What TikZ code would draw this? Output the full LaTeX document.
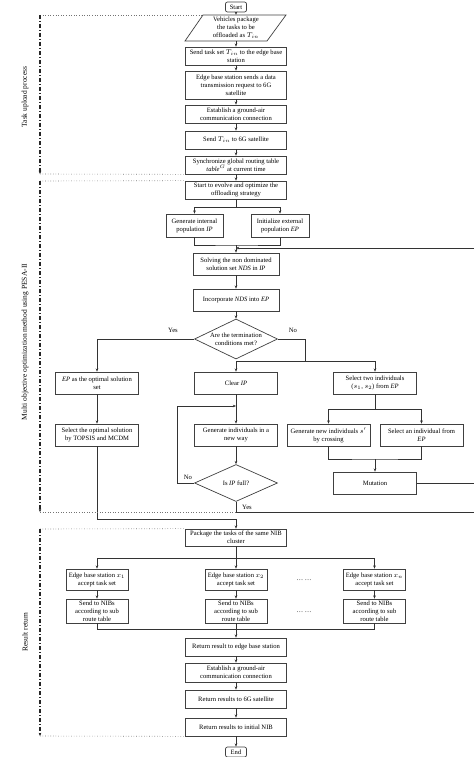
\documentclass[tikz,border=0pt]{standalone}
\usepackage{fontspec}
\setmainfont{Liberation Serif}
\usetikzlibrary{arrows.meta,shapes.geometric}

\tikzset{
	>={Stealth[length=3.2pt,width=2.6pt]},
	every node/.style={font=\fontsize{6.6}{8}\selectfont},
	boxline/.style={draw=black!75, line width=0.7pt},
	box/.style={boxline, shape=rectangle, align=center, inner sep=1pt},
	mainbox/.style={box, minimum width=101pt, minimum height=18pt},
	midbox/.style={box, minimum width=83pt, minimum height=22pt},
	edgebox/.style={box, minimum width=62pt},
	decide/.style={boxline, diamond, aspect=2.1, inner sep=0pt, align=center, minimum width=83pt},
	terminal/.style={boxline, rounded corners=2pt, minimum width=21pt, minimum height=10pt, inner sep=0pt},
	flow/.style={line width=0.5pt, black!80},
	phase/.style={line width=1.1pt, black!85, dash pattern=on 4pt off 2pt on 1pt off 2pt},
	bound/.style={dotted, black!55, line width=0.6pt},
	phaselabel/.style={rotate=90, font=\fontsize{7.5}{9}\selectfont}
}

\begin{document}
\begin{tikzpicture}[x=1pt, y=-1pt]
	\useasboundingbox (0,0) rectangle (474,757);

	%task upload process
	\node[terminal] (start) at (236,7) {Start};
	\draw[boxline] (203,15) -- (286,15) -- (267,41) -- (185,41) -- cycle;
	\coordinate (vehtl) at (203,15);
	\node[align=center, minimum height=26pt, inner sep=0pt] (veh) at (236,28) {Vehicles package\\the tasks to be\\offloaded as $T_{in}$};
	\node[mainbox] (task) at (236,56) {Send task set $T_{in}$ to the edge base\\station};
	\node[mainbox, minimum height=28pt] (req) at (236,85) {Edge base station sends a data\\transmission request to 6G\\satellite};
	\node[mainbox] (conn) at (236,114) {Establish a ground-air\\communication connection};
	\node[mainbox] (sat) at (236,140) {Send $T_{in}$ to 6G satellite};
	\node[mainbox] (sync) at (236,165) {Synchronize global routing table\\\textit{table}$^G$ at current time};
	\draw[flow,->] (start) -- (veh);
	\draw[flow,->] (veh) -- (task);
	\draw[flow,->] (task) -- (req);
	\draw[flow,->] (req) -- (conn);
	\draw[flow,->] (conn) -- (sat);
	\draw[flow,->] (sat) -- (sync);

	%optimization with PESA-II
	\node[mainbox] (evolve) at (236,190) {Start to evolve and optimize the\\offloading strategy};
	\draw[flow,->] (sync) -- (evolve);
	\node[box, minimum width=57pt, minimum height=23pt] (ip) at (194.5,225.5) {Generate internal\\population \textit{IP}};
	\node[box, minimum width=58pt, minimum height=23pt] (ep) at (280,225.5) {Initialize external\\population \textit{EP}};
	\coordinate (split1) at (236,207);
	\draw[flow] (evolve) -- (split1);
	\draw[flow,->] (split1) -| (ip);
	\draw[flow,->] (split1) -| (ep);

	\node[midbox, minimum width=86pt] (nds) at (236,264) {Solving the non dominated\\solution set \textit{NDS} in \textit{IP}};
	\node[midbox, minimum width=86pt] (inc) at (236,300) {Incorporate \textit{NDS} into \textit{EP}};
	\node[decide, minimum height=40pt] (term) at (236,339) {Are the termination\\conditions met?};
	\coordinate (m1) at (236,245);
	\coordinate (m2) at (236,248);
	\coordinate (back) at (474,248);
	\draw[flow] (ip.south) |- (m1) -| (ep.south);
	\draw[flow,->] (m1) -- (nds);
	\draw[flow,->] (back) -- (m2);
	\draw[flow,->] (nds) -- (inc);
	\draw[flow,->] (inc) -- (term);

	%yes branch
	\node[midbox] (opt) at (97,383) {\textit{EP} as the optimal solution\\set};
	\node[midbox] (topsis) at (97,435) {Select the optimal solution\\by TOPSIS and MCDM};
	\draw[flow,->] (term.west) -| (opt);
	\node at (173,330) {Yes};
	\draw[flow,->] (opt) -- (topsis);

	%no branch
	\node[midbox] (clear) at (236,383) {Clear \textit{IP}};
	\node[midbox] (gen) at (236,435) {Generate individuals in a\\new way};
	\node[decide, minimum height=37pt] (full) at (236,483) {Is \textit{IP} full?};
	\node[midbox] (two) at (375,383) {Select two individuals\\($s_1$, $s_2$) from \textit{EP}};
	\node[midbox] (cross) at (328.5,435) {Generate new individuals $s'$\\by crossing};
	\node[midbox] (pick) at (421.5,435) {Select an individual from\\\textit{EP}};
	\node[midbox] (mut) at (375,483) {Mutation};
	\coordinate (nosplit) at (305,361);
	\draw[flow] (term.east) -| (nosplit);
	\node at (293,330) {No};
	\draw[flow,->] (nosplit) -| (clear);
	\draw[flow,->] (nosplit) -| (two);
	\draw[flow,->] (clear) -- (gen);
	\draw[flow,->] (gen) -- (full);
	\coordinate (lpl) at (177,483);
	\coordinate (lpc) at (236,406);
	\draw[flow,->] (full.west) -- (lpl) |- (lpc);
	\node at (188,477) {No};
	\coordinate (yesc) at (236,512);
	\coordinate (yesr) at (474,512);
	\draw[flow] (full.south) -- (yesc) -- (yesr);
	\node at (247,507) {Yes};
	\coordinate (s2) at (375,409);
	\draw[flow] (two) -- (s2);
	\draw[flow,->] (s2) -| (cross);
	\draw[flow,->] (s2) -| (pick);
	\coordinate (m3) at (375,459);
	\draw[flow] (cross.south) |- (m3) -| (pick.south);
	\draw[flow,->] (m3) -- (mut);
	\coordinate (mr) at (474,483);
	\draw[flow] (mut) -- (mr);

	%result return
	\node[mainbox, minimum height=17pt] (pack) at (236,537.5) {Package the tasks of the same NIB\\cluster};
	\coordinate (j1) at (236,519);
	\draw[flow] (topsis) |- (j1);
	\draw[flow,->] (j1) -- (pack);
	\coordinate (s3) at (236,558);
	\coordinate (m4) at (236,629);
	\draw[flow] (pack) -- (s3);
	\foreach \i/\x/\n in {1/97/1, 2/236/2, 3/374.5/n}{
		\node[edgebox, minimum height=21pt] (e\i) at (\x,579.5) {Edge base station $x_{\n}$\\accept task set};
		\node[edgebox, minimum height=24pt] (r\i) at (\x,611) {Send to NIBs\\according to sub\\route table};
		\draw[flow,->] (s3) -| (e\i);
		\draw[flow,->] (e\i) -- (r\i);
		\draw[flow] (r\i.south) |- (m4);
	}
	\node (dots1) at (304,580) {… …};
	\node (dots2) at (304,612) {… …};

	\node[mainbox] (ret) at (236,647) {Return result to edge base station};
	\node[mainbox, minimum height=19pt] (conn2) at (236,672.5) {Establish a ground-air\\communication connection};
	\node[mainbox] (ret6) at (236,699) {Return results to 6G satellite};
	\node[mainbox] (retn) at (236,727) {Return results to initial NIB};
	\node[terminal] (end) at (236,752) {End};
	\draw[flow,->] (m4) -- (ret);
	\draw[flow,->] (ret) -- (conn2);
	\draw[flow,->] (conn2) -- (ret6);
	\draw[flow,->] (ret6) -- (retn);
	\draw[flow,->] (retn) -- (end);

	%phase frames
	\coordinate (p1a) at (40,15);
	\coordinate (p1b) at (40,174);
	\coordinate (p2a) at (40,181);
	\coordinate (p2b) at (40,512);
	\coordinate (p3a) at (40,529);
	\coordinate (p3b) at (40,736);
	\draw[bound] (p1a) -- (vehtl);
	\draw[phase,->] (p1a) -- (p1b);
	\draw[bound] (p1b) -- (sync.south west);
	\draw[bound] (p2a) -- (evolve.north west);
	\draw[phase,->] (p2a) -- (p2b);
	\draw[bound] (p2b) -- (yesc);
	\draw[bound] (p3a) -- (pack.north west);
	\draw[phase,->] (p3a) -- (p3b);
	\draw[bound] (p3b) -- (retn.south west);
	\node[phaselabel] (lab1) at (25,97) {Task upload process};
	\node[phaselabel] (lab2) at (25,342) {Multi objective optimization method using PESA-II};
	\node[phaselabel] (lab3) at (25,632) {Result return};
\end{tikzpicture}
\end{document}
